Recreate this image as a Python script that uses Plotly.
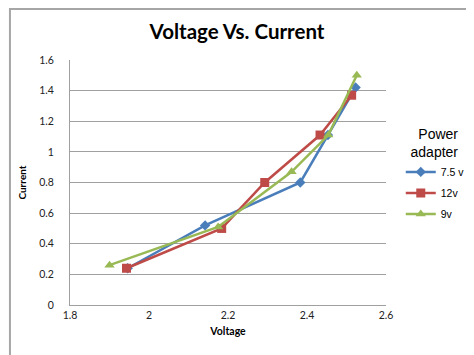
import plotly.graph_objects as go

series_names = ["7.5 v", "12v", "9v"]
x_75 = [1.946, 2.142, 2.383, 2.453, 2.523]
y_75 = [0.24, 0.52, 0.80, 1.11, 1.42]
x_12 = [1.943, 2.184, 2.293, 2.433, 2.513]
y_12 = [0.24, 0.50, 0.80, 1.11, 1.37]
x_9 = [1.900, 2.175, 2.361, 2.454, 2.526]
y_9 = [0.26, 0.51, 0.87, 1.11, 1.50]

x_ticks = [1.8, 2, 2.2, 2.4, 2.6]
y_ticks = [0, 0.2, 0.4, 0.6, 0.8, 1, 1.2, 1.4, 1.6]

colors = ["#4A7EBB", "#BE4B48", "#98B954"]
symbols = ["diamond", "square", "triangle-up"]
sizes = [8, 9, 9]

W, H = 474, 355
ml, mr, mt, mb = 62, 91, 52, 58

fig = go.Figure()
for i, (name, xs, ys) in enumerate(zip(series_names, [x_75, x_12, x_9], [y_75, y_12, y_9])):
    fig.add_trace(go.Scatter(
        x=xs, y=ys, name=name, mode="lines+markers",
        legendgroup=f"g{i}",
        line=dict(color=colors[i], width=2.5),
        marker=dict(symbol=symbols[i], size=sizes[i], color=colors[i]),
    ))

pw = W - ml - mr
ph = H - mt - mb

def px2paper_x(px):
    return (px - ml) / pw

def px2paper_y(py):
    return (H - mb - py) / ph

fig.add_shape(type="rect", xref="paper", yref="paper",
              x0=px2paper_x(1), x1=px2paper_x(473),
              y0=px2paper_y(353), y1=px2paper_y(1),
              line=dict(color="#A6A6A6", width=2), layer="above")

fig.update_layout(
    width=W, height=H,
    margin=dict(l=ml, r=mr, t=mt, b=mb),
    paper_bgcolor="white", plot_bgcolor="white",
    font=dict(family="Lato, Liberation Sans, sans-serif", color="#000000"),
    title=dict(text="<b>Voltage Vs. Current</b>", x=229 / W, xref="container",
               xanchor="center", y=1 - 24 / H, yanchor="middle",
               font=dict(size=20.5, family="Lato, sans-serif", color="#000000")),
    xaxis=dict(range=[1.8, 2.6], tickvals=x_ticks, ticktext=[str(v) for v in x_ticks],
               showgrid=False, showline=True, linecolor="#A0A0A0", linewidth=1,
               ticks="", tickfont=dict(size=10.5, color="#222222"), zeroline=False,
               title=dict(text="<b>Voltage</b>", font=dict(size=10.5), standoff=8)),
    yaxis=dict(range=[0, 1.6], tickvals=y_ticks, ticktext=[str(v) for v in y_ticks],
               showgrid=True, gridcolor="#A0A0A0", gridwidth=1,
               showline=True, linecolor="#A0A0A0", linewidth=1,
               ticks="", tickfont=dict(size=10.5, color="#222222"), zeroline=False,
               ticklabelstandoff=13,
               title=dict(text="<b>Current</b>", font=dict(size=10), standoff=10)),
    legend=dict(
        x=px2paper_x(398), xanchor="left", y=px2paper_y(113), yanchor="top",
        title=dict(text="    Power<br>  adapter", font=dict(size=14, family="Liberation Sans, Arial, sans-serif"), side="top"),
        font=dict(size=10.5, family="Liberation Sans, Arial, sans-serif"),
        tracegroupgap=2, itemwidth=30, bgcolor="rgba(0,0,0,0)",
    ),
    showlegend=True,
)

fig.write_html("out.html")
